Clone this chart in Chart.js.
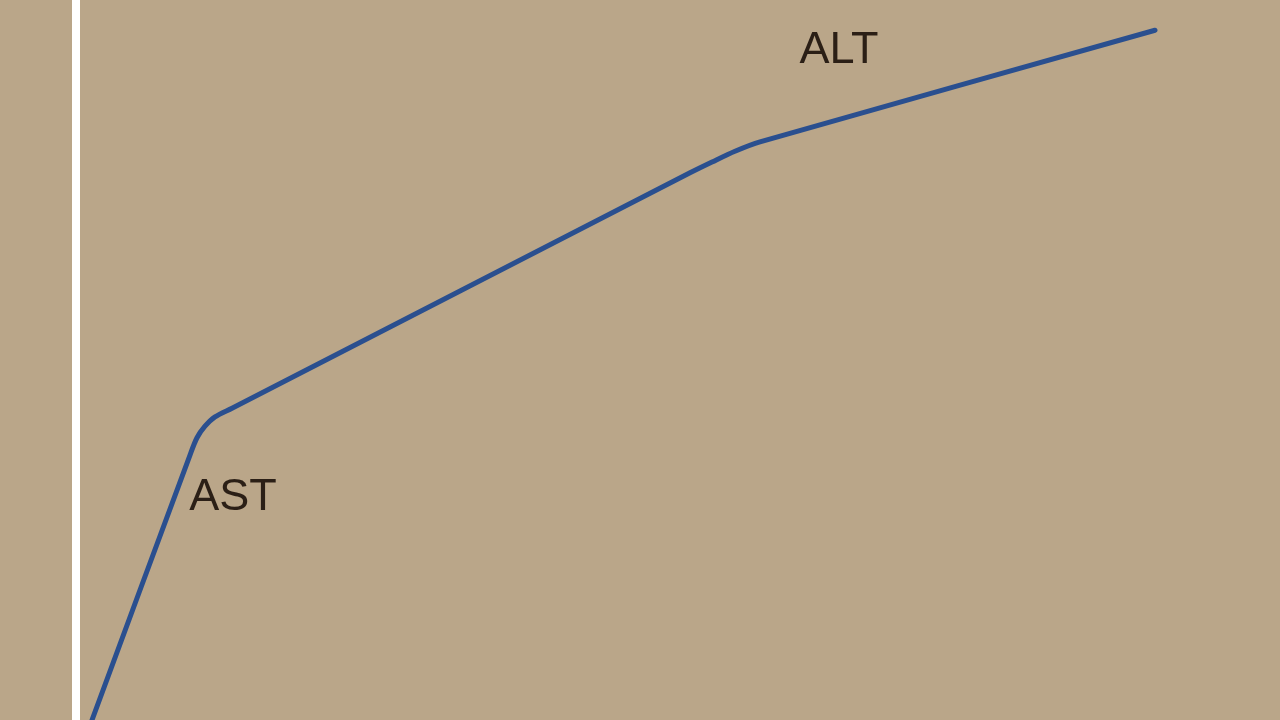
<!DOCTYPE html>
<html>
<head>
<meta charset="utf-8">
<script src="https://cdn.jsdelivr.net/npm/chart.js@4"></script>
<style>
  html, body { margin: 0; padding: 0; background: #baa689; overflow: hidden; }
  canvas { display: block; }
</style>
</head>
<body>
<canvas id="myChart" width="1280" height="720"></canvas>
<script>
const ctx = document.getElementById("myChart").getContext("2d");

// curve points (arbitrary units)
const xValues = [1.6, 11.4, 12.1, 12.9, 13.9, 15.6, 61.4, 63.6, 65.9, 68.4, 107.9];
const yValues = [0, 36.8, 39.2, 40.8, 42.1, 43.3, 76.0, 77.5, 79.0, 80.3, 95.8];

const labelNames = ["AST", "ALT"];
const labelX = [15.7, 76.3];
const labelY = [29.2, 91.3];

const points = xValues.map((x, i) => ({ x: x, y: yValues[i] }));

const extras = {
      id: "extras",
      beforeDatasetsDraw(chart) {
            const c = chart.ctx;
            const px = chart.scales.x.getPixelForValue(0);
            c.save();
            c.fillStyle = "#ffffff";
            c.fillRect(px - 4, 0, 8, chart.height);
            c.restore();
      },
      afterDatasetsDraw(chart) {
            const c = chart.ctx;
            const xs = chart.scales.x, ys = chart.scales.y;
            c.save();
            c.fillStyle = "#2b1f16";
            c.font = "45px 'Liberation Sans', Arial, sans-serif";
            c.textAlign = "center";
            c.textBaseline = "alphabetic";
            labelNames.forEach((t, i) => {
                  c.fillText(t, xs.getPixelForValue(labelX[i]), ys.getPixelForValue(labelY[i]));
            });
            c.restore();
      },
};

const config = {
      type: "line",
      data: {
            datasets: [{
                  data: points,
                  borderColor: "#2a4f8f",
                  borderWidth: 5,
                  borderCapStyle: "round",
                  pointRadius: 0,
                  fill: false,
                  tension: 0.3,
            }],
      },
      options: {
            responsive: false,
            animation: false,
            layout: { padding: 0 },
            plugins: { legend: { display: false }, tooltip: { enabled: false } },
            scales: {
                  x: { type: "linear", min: -7.6, max: 120.4, display: false },
                  y: { type: "linear", min: 0, max: 100, display: false },
            },
      },
      plugins: [extras],
};

const myChart = new Chart(ctx, config);
</script>
</body>
</html>
